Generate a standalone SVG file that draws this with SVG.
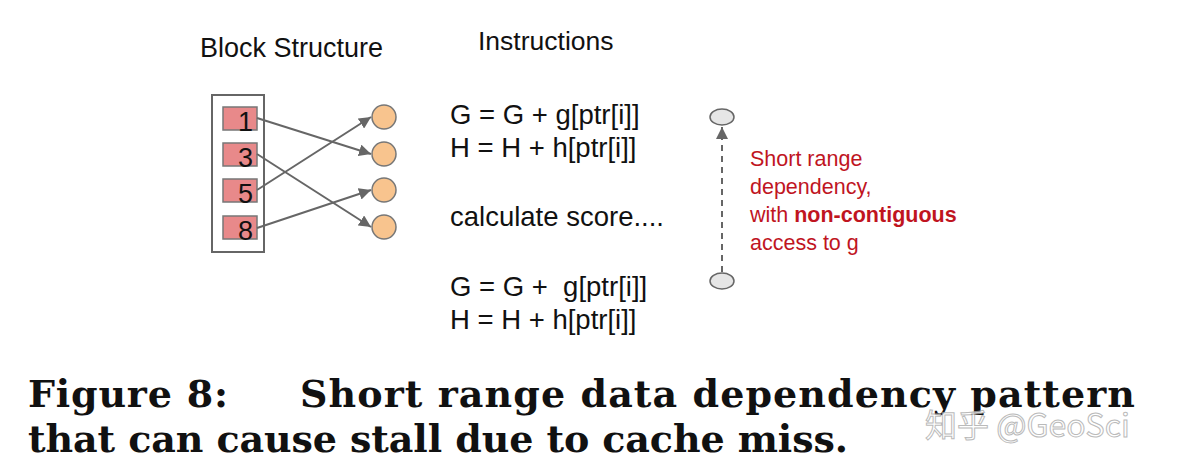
<svg xmlns="http://www.w3.org/2000/svg" width="1178" height="470" viewBox="0 0 1178 470">
<style>
.s{font-family:"Liberation Sans",Arial,sans-serif;fill:#111}
.r{font-family:"Liberation Sans",Arial,sans-serif;fill:#c0151f;font-size:21.5px}
.cap{font-family:"DejaVu Serif","Liberation Serif",serif;font-weight:bold;font-size:38px;fill:#111}
.blk{fill:#e8898a;stroke:#777;stroke-width:1.5}
.c{fill:#f8c48e;stroke:#777;stroke-width:1.5}
.g{fill:#e6e6e6;stroke:#666;stroke-width:1.5}
.a{stroke:#666;stroke-width:2;fill:none;marker-end:url(#m)}
</style>
<defs><marker id="m" viewBox="0 0 10 10" refX="10" refY="5" markerWidth="6" markerHeight="6" orient="auto"><path d="M0,0L10,5L0,10z" fill="#666"/></marker></defs>
<rect width="1178" height="470" fill="#fff"/>
<text class="s" x="200" y="57" font-size="27">Block Structure</text>
<text class="s" x="478" y="50" font-size="26.5">Instructions</text>
<g id="block"><rect x="212" y="95" width="52" height="157" fill="none" stroke="#666" stroke-width="2"/>
<rect class="blk" x="223" y="107" width="34" height="23"/><text class="s" x="238" y="131" font-size="27">1</text>
<rect class="blk" x="223" y="143" width="34" height="23"/><text class="s" x="238" y="167" font-size="27">3</text>
<rect class="blk" x="223" y="179" width="34" height="23"/><text class="s" x="238" y="203" font-size="27">5</text>
<rect class="blk" x="223" y="216" width="34" height="23"/><text class="s" x="238" y="240" font-size="27">8</text></g>
<g id="nodes"><circle class="c" cx="384" cy="117" r="12"/><circle class="c" cx="384" cy="154" r="12"/><circle class="c" cx="384" cy="190" r="12"/><circle class="c" cx="384" cy="227" r="12"/>
<ellipse class="g" cx="722" cy="117" rx="12" ry="8"/><ellipse class="g" cx="722" cy="281" rx="12" ry="8"/></g>
<g id="connectors">
<line class="a" x1="257" y1="118" x2="371" y2="154"/>
<line class="a" x1="257" y1="154" x2="371" y2="227"/>
<line class="a" x1="257" y1="190" x2="371" y2="117"/>
<line class="a" x1="257" y1="228" x2="371" y2="190"/>
<line class="a" x1="722" y1="272" x2="722" y2="127" stroke-dasharray="6,5"/>
</g>
<g class="s" font-size="27.5"><text x="450" y="124">G = G + g[ptr[i]]</text><text x="450" y="157">H = H + h[ptr[i]]</text>
<text x="450" y="226">calculate score....</text>
<text x="450" y="296" xml:space="preserve">G = G +  g[ptr[i]]</text><text x="450" y="329">H = H + h[ptr[i]]</text></g>
<text class="r" x="750" y="166">Short range</text><text class="r" x="750" y="194">dependency,</text>
<text class="r" x="750" y="222">with <tspan font-weight="bold">non-contiguous</tspan></text><text class="r" x="750" y="250">access to g</text>
<text class="cap" x="28" y="407" textLength="200" lengthAdjust="spacing">Figure 8:</text>
<text class="cap" x="300" y="407" textLength="835" lengthAdjust="spacing">Short range data dependency pattern</text>
<text class="cap" x="28" y="452" textLength="820" lengthAdjust="spacing">that can cause stall due to cache miss.</text>
<text x="925" y="437" font-family="Noto Sans CJK SC,sans-serif" font-size="32" fill="#fff" stroke="#aaa" stroke-width="1" opacity="0.8">知乎 @GeoSci</text>
</svg>
